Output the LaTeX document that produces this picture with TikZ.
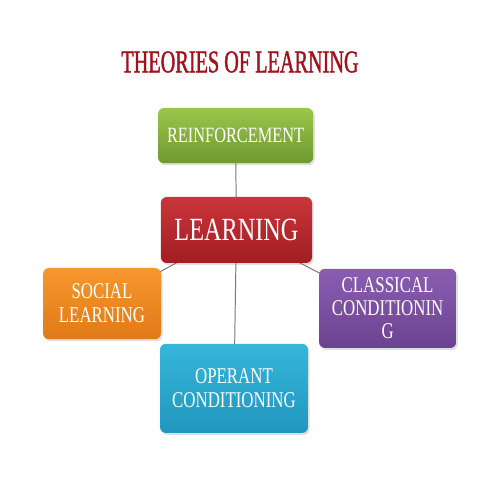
\documentclass[tikz,border=0pt]{standalone}
\usepackage{fontspec}
\setmainfont{Liberation Serif}
\newfontfamily\boxfont[FakeStretch=0.75]{Liberation Serif}
\newfontfamily\titlefont[FakeStretch=0.64, FakeBold=1.2]{Liberation Serif}
\usepackage{tikz}
\usetikzlibrary{shapes,positioning,shadows}
\usepackage{xcolor}
\definecolor{tlred}{RGB}{160,18,28}
\definecolor{tlgreentop}{RGB}{155,197,75}
\definecolor{tlgreenbot}{RGB}{111,154,47}
\definecolor{tlredtop}{RGB}{201,53,58}
\definecolor{tlredbot}{RGB}{161,30,34}
\definecolor{tlorangetop}{RGB}{247,151,45}
\definecolor{tlorangebot}{RGB}{224,122,23}
\definecolor{tlpurpletop}{RGB}{138,93,177}
\definecolor{tlpurplebot}{RGB}{107,66,144}
\definecolor{tlcyantop}{RGB}{53,182,218}
\definecolor{tlcyanbot}{RGB}{33,150,190}
\definecolor{tlgray}{RGB}{120,120,120}
\tikzstyle{link} = [line width=0.7pt, color=tlgray]
\tikzstyle{theory} = [rectangle, rounded corners=0.15cm, align=center, text=white, font=\boxfont, drop shadow={shadow xshift=0.04cm, shadow yshift=-0.05cm, opacity=0.25}]

\begin{document}
\begin{tikzpicture}
    \useasboundingbox (0,0) rectangle (12,12);

    % Title
    \node[text=tlred, font=\titlefont\fontsize{22.5}{26}\selectfont] (title) at (6.0, 10.45) {THEORIES OF LEARNING};

    % Connections (behind the boxes)
    \coordinate (c-reinf) at (5.89, 8.61);
    \coordinate (c-learn) at (5.91, 6.25);
    \coordinate (c-social) at (2.55, 4.41);
    \coordinate (c-classic) at (9.69, 4.29);
    \coordinate (c-operant) at (5.85, 2.29);
    \draw[link] (c-learn) -- (c-reinf);
    \draw[link] (c-learn) -- (c-social);
    \draw[link] (c-learn) -- (c-classic);
    \draw[link] (c-learn) -- (c-operant);

    % Central concept
    \node[theory, minimum width=3.78cm, minimum height=1.65cm, top color=tlredtop, bottom color=tlredbot, font=\boxfont\fontsize{23}{26}\selectfont] (learn) at (c-learn) {LEARNING};

    % Surrounding concepts
    \node[theory, minimum width=3.88cm, minimum height=1.38cm, top color=tlgreentop, bottom color=tlgreenbot, font=\boxfont\fontsize{15.5}{17}\selectfont] (reinf) at (c-reinf) {REINFORCEMENT};
    \node[theory, minimum width=2.95cm, minimum height=1.78cm, top color=tlorangetop, bottom color=tlorangebot, font=\boxfont\fontsize{16}{17}\selectfont] (social) at (c-social) {SOCIAL\\LEARNING};
    \node[theory, minimum width=3.43cm, minimum height=1.98cm, top color=tlpurpletop, bottom color=tlpurplebot, font=\boxfont\fontsize{16}{16.4}\selectfont] (classic) at (c-classic) {CLASSICAL\\CONDITIONIN\\G};
    \node[theory, minimum width=3.7cm, minimum height=2.23cm, top color=tlcyantop, bottom color=tlcyanbot, font=\boxfont\fontsize{16}{17}\selectfont] (operant) at (c-operant) {OPERANT\\CONDITIONING};
\end{tikzpicture}
\end{document}
